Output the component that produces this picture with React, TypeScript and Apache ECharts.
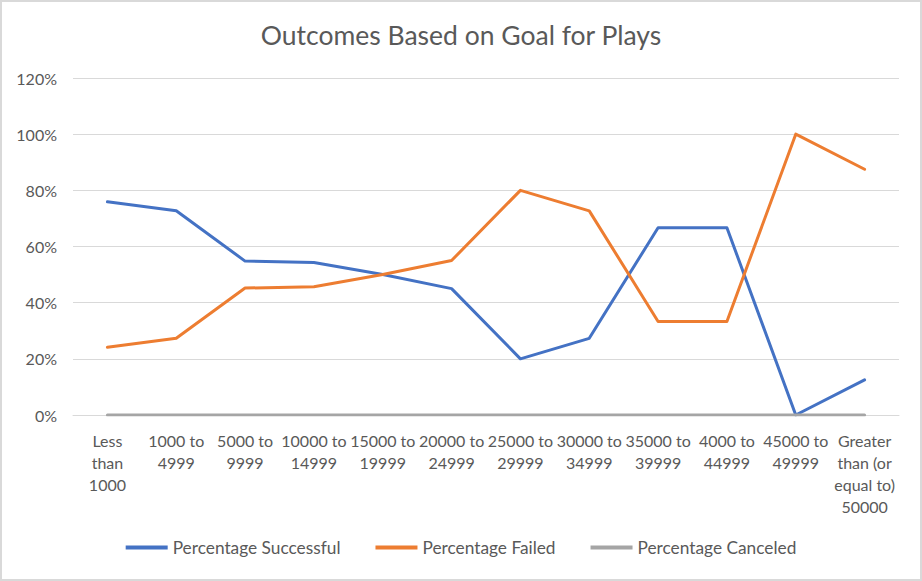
import React, { useEffect, useRef } from 'react';
import * as echarts from 'echarts';

// goal ranges, as shown under the x axis
const categories = [
  'Less\nthan\n1000',
  '1000 to\n4999',
  '5000 to\n9999',
  '10000 to\n14999',
  '15000 to\n19999',
  '20000 to\n24999',
  '25000 to\n29999',
  '30000 to\n34999',
  '35000 to\n39999',
  '4000 to\n44999',
  '45000 to\n49999',
  'Greater\nthan (or\nequal to)\n50000',
];

// percentages
const successful = [75.9, 72.7, 54.8, 54.3, 50, 45, 20, 27.3, 66.7, 66.7, 0, 12.5];
const failed = [24.1, 27.3, 45.2, 45.7, 50, 55, 80, 72.7, 33.3, 33.3, 100, 87.5];
const canceled = [0, 0, 0, 0, 0, 0, 0, 0, 0, 0, 0, 0];

const seriesNames = ['Percentage Successful', 'Percentage Failed', 'Percentage Canceled'];
const colors = ['#4472C4', '#ED7D31', '#A5A5A5'];

const FONT = 'Lato, "Noto Sans", sans-serif';
const TEXT = '#595959';
const GRID = '#D9D9D9';

export default function App() {
  const chartRef = useRef<HTMLDivElement>(null);

  useEffect(() => {
    if (!chartRef.current) return;
    const chart = echarts.init(chartRef.current, undefined, { renderer: 'svg' });

    const values = [successful, failed, canceled];

    const option: echarts.EChartsOption = {
      animation: false,
      backgroundColor: '#fff',
      color: colors,
      title: {
        text: 'Outcomes Based on Goal for Plays',
        left: 'center',
        top: 19,
        padding: 0,
        textStyle: {
          color: TEXT,
          fontFamily: FONT,
          fontSize: 26.5,
          fontWeight: 'normal',
        },
      },
      grid: {
        left: 71,
        right: 21,
        top: 76,
        bottom: 164,
        containLabel: false,
      },
      legend: {
        bottom: 18,
        left: 'center',
        icon: 'rect',
        itemWidth: 42,
        itemHeight: 4,
        itemGap: 35,
        textStyle: {
          color: TEXT,
          fontFamily: FONT,
          fontSize: 17.3,
        },
        data: seriesNames,
      },
      xAxis: {
        type: 'category',
        data: categories,
        boundaryGap: true,
        axisLine: { show: true, lineStyle: { color: GRID, width: 1 } },
        axisTick: { show: false },
        axisLabel: {
          interval: 0,
          color: TEXT,
          fontFamily: FONT,
          fontSize: 16,
          lineHeight: 22,
          margin: 14,
        },
      },
      yAxis: {
        type: 'value',
        min: 0,
        max: 120,
        interval: 20,
        axisLine: { show: false },
        axisTick: { show: false },
        axisLabel: {
          color: TEXT,
          fontFamily: FONT,
          fontSize: 16,
          margin: 16,
          formatter: (v: number) => `${v}%`,
        },
        splitLine: { lineStyle: { color: GRID, width: 1 } },
      },
      series: seriesNames.map((name, i) => ({
        name,
        type: 'line' as const,
        data: values[i],
        symbol: 'none',
        lineStyle: { width: 3, color: colors[i], cap: 'round', join: 'round' },
        itemStyle: { color: colors[i] },
      })),
    };

    chart.setOption(option);

    return () => {
      chart.dispose();
    };
  }, []);

  return (
    <div
      style={{
        position: 'absolute',
        left: 0,
        top: 0,
        width: 922,
        height: 581,
        boxSizing: 'border-box',
        border: '2px solid #D9D9D9',
        background: '#fff',
      }}
    >
      <div ref={chartRef} style={{ width: 918, height: 577 }} />
    </div>
  );
}
